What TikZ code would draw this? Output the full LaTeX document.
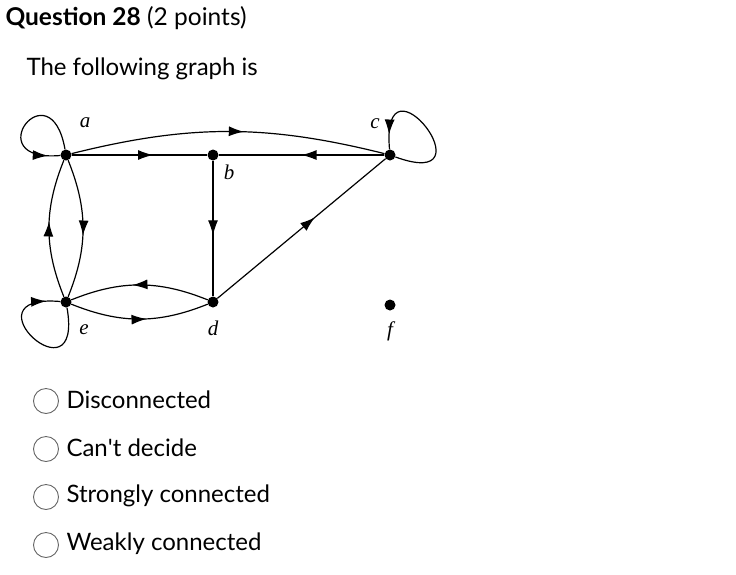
\documentclass[tikz,border=0pt]{standalone}
\usepackage{fontspec}
\setmainfont{Lato}
\newfontfamily\gfont{Liberation Serif}
\usetikzlibrary{decorations.markings,arrows.meta}
\begin{document}
\begin{tikzpicture}[x=1pt,y=-1pt,
  vtx/.style={circle,fill=black,inner sep=0pt,minimum size=11pt},
  lbl/.style={font=\gfont\itshape\fontsize{21}{21}\selectfont},
  midarr/.style={postaction={decorate},decoration={markings,mark=at position #1 with {\arrow{Latex[length=15pt,width=10pt]}}}},
  midarr/.default=0.55,
  edg/.style={line width=1.2pt},
  radio/.style={circle,draw=black!60,line width=0.9pt,minimum size=25pt,inner sep=0pt},
  opt/.style={anchor=west,font=\fontsize{24}{24}\selectfont}]
\useasboundingbox (0,0) rectangle (736,574);
\node[anchor=west,font=\fontsize{24.5}{24}\selectfont] (q) at (2,18) {\textbf{Question 28} (2 points)};
\node[anchor=west,font=\fontsize{24}{24}\selectfont] (t) at (23,69) {The following graph is};
\node[vtx] (a) at (66,155) {};
\node[vtx] (b) at (213,155) {};
\node[vtx] (c) at (390,155) {};
\node[vtx] (e) at (66,302) {};
\node[vtx] (d) at (213,302) {};
\node[vtx] (f) at (390,305) {};
\node[lbl] (la) at (85,123) {a};
\node[lbl] (lb) at (229,172) {b};
\node[lbl] (lc) at (375,124) {c};
\node[lbl] (ld) at (213,328) {d};
\node[lbl] (le) at (84,330) {e};
\node[lbl] (lf) at (390,331) {f};
\draw[edg,midarr] (a) to[bend left=14] (c);
\draw[edg,midarr=0.6] (a) -- (b);
\draw[edg,midarr=0.5] (c) -- (b);
\draw[edg,midarr] (b) -- (d);
\draw[edg,midarr=0.58] (d) -- (c);
\draw[edg,midarr] (d) to[bend right=22] (e);
\draw[edg,midarr] (e) to[bend right=22] (d);
\draw[edg,midarr] (a) to[bend left=22] (e);
\draw[edg,midarr] (e) to[bend left=22] (a);
\draw[edg,midarr=0.9] (a) to[out=100,in=185,looseness=28] (a);
\draw[edg,midarr=0.9] (e) to[out=-80,in=175,looseness=28] (e);
\draw[edg,midarr=0.9] (c) to[out=-20,in=95,looseness=28] (c);
\node[radio] (r1) at (46,401) {};
\node[radio] (r2) at (46,449) {};
\node[radio] (r3) at (46,497) {};
\node[radio] (r4) at (46,545) {};
\node[opt] (o1) at (63,400) {Disconnected};
\node[opt] (o2) at (63,448) {Can\textquotesingle t decide};
\node[opt] (o3) at (63,496) {Strongly connected};
\node[opt] (o4) at (63,544) {Weakly connected};
\end{tikzpicture}
\end{document}
